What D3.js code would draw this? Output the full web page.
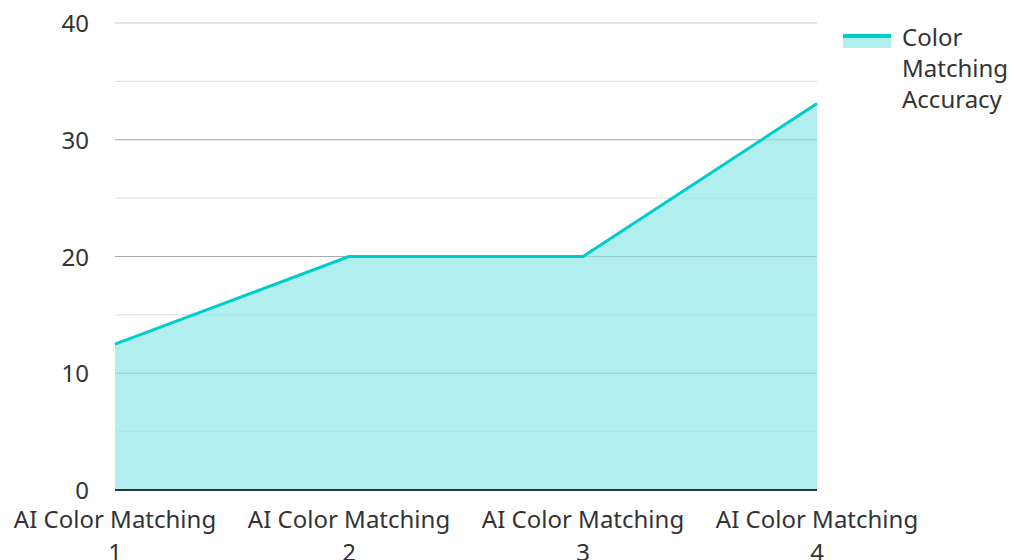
<!DOCTYPE html>
<html>
<head>
<meta charset="utf-8">
<script src="https://cdn.jsdelivr.net/npm/d3@7"></script>
<style>
  body { margin: 0; background: #fff; font-family: "Noto Sans", sans-serif; }
</style>
</head>
<body>
<div id="root"></div>
<script>
// chart data
const categories = ["AI Color Matching 1", "AI Color Matching 2", "AI Color Matching 3", "AI Color Matching 4"];
const accuracy = [12.5, 20, 20, 33.1];
const seriesName = "Color Matching Accuracy";
const yTicks = [0, 10, 20, 30, 40];
const yMinor = [5, 15, 25, 35];

let width = 1014, height = 560,
    margin = { left: 115, right: 197, top: 23, bottom: 70 },
    fontSize = 24;

let lineColor = "#00cccc",
    fillColor = "#b0efee";

let svg = d3.select('#root').append('svg')
    .attr('width', width)
    .attr('height', height);

let x = d3.scalePoint()
    .domain(categories)
    .range([margin.left, width - margin.right]);

let y = d3.scaleLinear()
    .domain([0, 40])
    .range([height - margin.bottom, margin.top]);

// gridlines
svg.append('g').selectAll('line.minor')
    .data(yMinor).enter().append('line')
    .attr('x1', margin.left).attr('x2', width - margin.right)
    .attr('y1', d => y(d)).attr('y2', d => y(d))
    .attr('stroke', '#e6e6e6').attr('stroke-width', 1);

svg.append('g').selectAll('line.major')
    .data(yTicks.filter(d => d > 0)).enter().append('line')
    .attr('x1', margin.left).attr('x2', width - margin.right)
    .attr('y1', d => y(d)).attr('y2', d => y(d))
    .attr('stroke', '#c8c8c8').attr('stroke-width', 1.2);

// area + line
let area = d3.area()
    .x((d, i) => x(categories[i]))
    .y0(y(0))
    .y1(d => y(d));

let line = d3.line()
    .x((d, i) => x(categories[i]))
    .y(d => y(d));

svg.append('path')
    .datum(accuracy)
    .attr('d', area)
    .attr('fill', fillColor);

// gridlines show faintly through the fill
svg.append('g').selectAll('line.over')
    .data(yTicks.filter(d => d > 0 && d < 40).concat(yMinor)).enter().append('line')
    .attr('x1', margin.left).attr('x2', width - margin.right)
    .attr('y1', d => y(d)).attr('y2', d => y(d))
    .attr('stroke', d => yMinor.includes(d) ? 'rgba(0,0,0,0.04)' : 'rgba(0,0,0,0.15)')
    .attr('stroke-width', 1);

svg.append('path')
    .datum(accuracy)
    .attr('d', line)
    .attr('fill', 'none')
    .attr('stroke', lineColor)
    .attr('stroke-width', 3)
    .attr('stroke-linejoin', 'round');

// baseline
svg.append('line')
    .attr('x1', margin.left).attr('x2', width - margin.right)
    .attr('y1', y(0)).attr('y2', y(0))
    .attr('stroke', '#333').attr('stroke-width', 2);

// y labels
svg.append('g').selectAll('text')
    .data(yTicks).enter().append('text')
    .attr('x', 89)
    .attr('y', d => y(d) + 9)
    .attr('text-anchor', 'end')
    .attr('font-size', fontSize)
    .attr('fill', '#333')
    .text(d => d);

// x labels (two lines)
svg.append('g').selectAll('text')
    .data(categories).enter().append('text')
    .attr('text-anchor', 'middle')
    .attr('font-size', fontSize)
    .attr('fill', '#333')
    .each(function (d) {
        let parts = [d.slice(0, d.lastIndexOf(' ')), d.slice(d.lastIndexOf(' ') + 1)];
        d3.select(this).selectAll('tspan')
            .data(parts).enter().append('tspan')
            .attr('x', x(d))
            .attr('y', (p, i) => 528 + i * 33)
            .text(p => p);
    });

// legend
let legend = svg.append('g');
legend.append('rect')
    .attr('x', 843).attr('y', 36)
    .attr('width', 48).attr('height', 12)
    .attr('fill', fillColor);
legend.append('line')
    .attr('x1', 843).attr('x2', 891)
    .attr('y1', 36).attr('y2', 36)
    .attr('stroke', lineColor).attr('stroke-width', 4);
legend.append('text')
    .attr('font-size', fontSize)
    .attr('fill', '#333')
    .selectAll('tspan')
    .data(seriesName.split(' ')).enter().append('tspan')
    .attr('x', 902)
    .attr('y', (d, i) => 46 + i * 31)
    .text(d => d);
</script>
</body>
</html>
